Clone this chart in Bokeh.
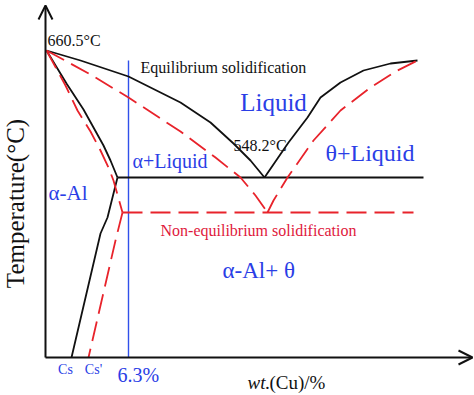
import math
from bokeh.plotting import figure
from bokeh.models import Range1d, Label, Arrow, OpenHead
from bokeh.embed import file_html
from bokeh.resources import INLINE

# Schematic coordinates (x: composition, y: temperature), origin at the axes corner
# Equilibrium curves (black)
eq_liq_left_x = [1, 35, 83, 135, 165, 188, 205, 219]
eq_liq_left_y = [307, 297, 281, 255, 235, 214, 197, 180]
eq_liq_right_x = [219, 243, 262, 275, 295, 318, 345, 372]
eq_liq_right_y = [180, 215, 240, 260, 275, 287, 294, 297]
eq_sol_x = [1, 21, 38, 48, 58, 65, 72]
eq_sol_y = [307, 274, 248, 230, 212, 197, 180]
eq_solvus_x = [72, 62, 55, 26]
eq_solvus_y = [180, 140, 124, 0]
eq_eutectic_x = [72, 378]
eq_eutectic_y = [180, 180]

# Non-equilibrium curves (red dashed)
ne_liq_left_x = [1, 45, 83, 135, 170, 195, 210, 222]
ne_liq_left_y = [307, 283, 260, 226, 200, 180, 162, 145]
ne_liq_right_x = [222, 228, 242, 268, 295, 325, 350, 372]
ne_liq_right_y = [145, 157, 180, 217, 247, 270, 286, 297]
ne_sol_x = [1, 20, 32, 45, 55, 63, 68, 77]
ne_sol_y = [307, 272, 247, 226, 207, 190, 177, 145]
ne_solvus_x = [77, 70, 43]
ne_solvus_y = [145, 117, 0]
ne_eutectic_x = [77, 368]
ne_eutectic_y = [145, 145]

# Alloy composition line (6.3%)
alloy_x = [83, 83]
alloy_y = [0, 297]

BLACK = "#111111"
RED = "#e8232b"
RED_TXT = "#e0183c"
BLUE = "#2a3ee6"
BLUE_LINE = "#3050ea"
SERIF = "Liberation Serif"

p = figure(width=474, height=395, x_range=Range1d(-45, 429), y_range=Range1d(-38, 357),
           output_backend="svg", toolbar_location=None, min_border=0,
           x_axis_location=None, y_axis_location=None)
p.grid.visible = False
p.outline_line_color = None
p.background_fill_color = "white"

# axes with arrows
p.add_layout(Arrow(end=OpenHead(size=14, line_width=2, line_color=BLACK),
                   x_start=0, y_start=0, x_end=0, y_end=352,
                   line_width=2, line_color=BLACK))
p.add_layout(Arrow(end=OpenHead(size=14, line_width=2, line_color=BLACK),
                   x_start=0, y_start=0, x_end=427, y_end=0,
                   line_width=2, line_color=BLACK))

# blue alloy line
p.line(alloy_x, alloy_y, line_color=BLUE_LINE, line_width=1.4)

# equilibrium black
for xs, ys in [(eq_liq_left_x, eq_liq_left_y), (eq_liq_right_x, eq_liq_right_y),
               (eq_sol_x, eq_sol_y), (eq_solvus_x, eq_solvus_y),
               (eq_eutectic_x, eq_eutectic_y)]:
    p.line(xs, ys, line_color=BLACK, line_width=1.8, line_join="round")

# non-equilibrium red dashed
for xs, ys in [(ne_liq_left_x, ne_liq_left_y), (ne_liq_right_x, ne_liq_right_y),
               (ne_sol_x, ne_sol_y), (ne_solvus_x, ne_solvus_y),
               (ne_eutectic_x, ne_eutectic_y)]:
    p.line(xs, ys, line_color=RED, line_width=1.8, line_dash="20 8", line_join="round")

def lab(x, y, t, size, color, align="left", style="normal", angle=0.0):
    p.add_layout(Label(x=x, y=y, text=t, text_font=SERIF, text_font_size=f"{size}px",
                       text_color=color, text_align=align, text_baseline="middle",
                       text_font_style=style, angle=angle))

lab(2, 317, "660.5°C", 16, BLACK)
lab(95, 290, "Equilibrium solidification", 16, BLACK)
lab(228, 255, "Liquid", 25, BLUE, align="center")
lab(188, 212, "548.2°C", 16, BLACK)
lab(280, 205, "θ+Liquid", 24, BLUE)
lab(87, 197, "α+Liquid", 20, BLUE)
lab(3, 165, "α-Al", 21, BLUE)
lab(115, 127, "Non-equilibrium solidification", 16, RED_TXT)
lab(177, 87, "α-Al+ θ", 23, BLUE)
lab(20, -12, "Cs", 14, BLUE, align="center")
lab(48, -12, "Cs'", 14, BLUE, align="center")
lab(72, -17, "6.3%", 20, BLUE)
lab(202, -25, "wt.", 19, BLACK, style="italic")
lab(224, -25, "(Cu)/%", 19, BLACK)
lab(-30, 154, "Temperature(°C)", 25, BLACK, align="center", angle=math.pi / 2)

open("out.html", "w").write(file_html(p, INLINE))
